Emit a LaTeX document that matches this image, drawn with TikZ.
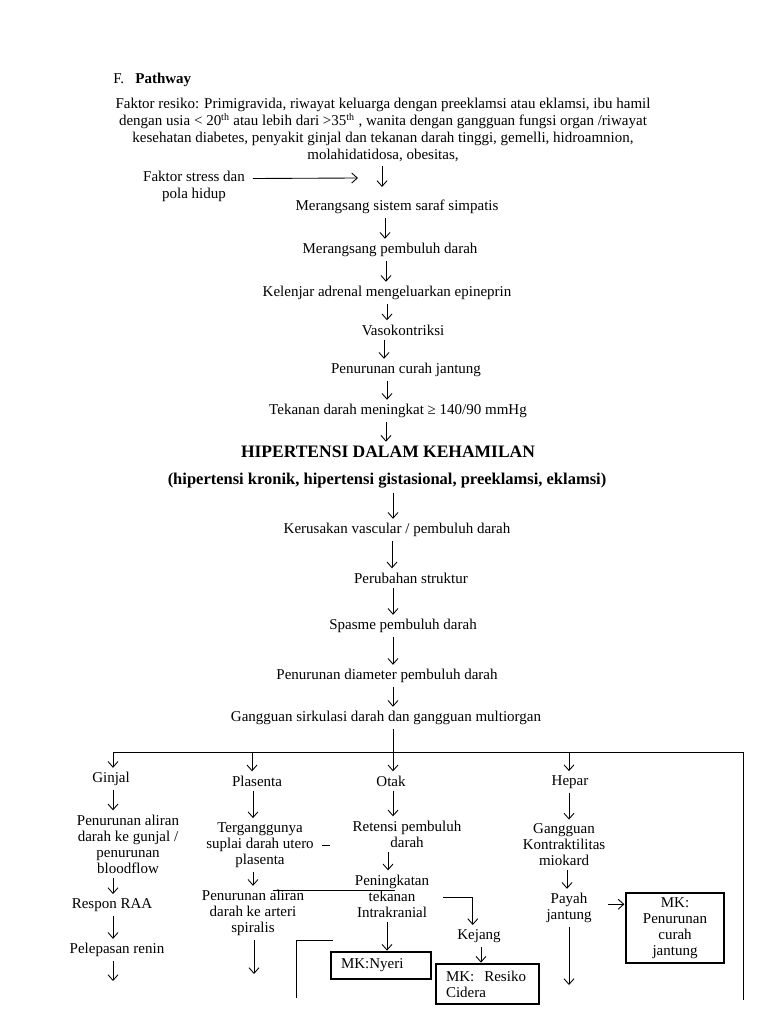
\documentclass[tikz,border=0pt]{standalone}
\usepackage{fontspec}
\setmainfont{Liberation Serif}
\usetikzlibrary{arrows.meta}

\begin{document}
\begin{tikzpicture}
[x=0.8pt,y=-0.8pt,
  textdecorate/.style={font=\fontsize{12}{13.6}\selectfont,align=center},
  branchdecorate/.style={font=\fontsize{12}{12.8}\selectfont,align=center},
  boxdecorate/.style={draw,line width=2.2pt,font=\fontsize{12}{12.8}\selectfont,inner xsep=8pt},
  arrowdecorate/.style={->,>={Straight Barb[length=4.5pt,width=8pt]},line width=0.7pt},
  linedecorate/.style={line width=0.7pt}]
\useasboundingbox (0,0) rectangle (768,1024);
%% title and risk factors
\node (judul) at (113,80) [anchor=west,inner sep=0pt,font=\fontsize{12}{13.6}\selectfont]
  {F.\hspace{9pt}\textbf{Pathway}};
\node (faktor) at (383,130) [textdecorate]
  {Faktor resiko: Primigravida, riwayat keluarga dengan preeklamsi atau eklamsi, ibu hamil\\
   dengan usia < 20\textsuperscript{th} atau lebih dari >35\textsuperscript{th} , wanita dengan gangguan fungsi organ /riwayat\\
   kesehatan diabetes, penyakit ginjal dan tekanan darah tinggi, gemelli, hidroamnion,\\
   molahidatidosa, obesitas,};
\node (stress) at (194,186) [textdecorate] {Faktor stress dan\\pola hidup};
\coordinate (gabung) at (382,187);
\coordinate (stress-ujung) at (358,178);
%% main chain
\foreach \nodename/\x/\y/\teks in {simpatis/397/207/{Merangsang sistem saraf simpatis},
  pembuluh/390/250/{Merangsang pembuluh darah},
  adrenal/387/293/{Kelenjar adrenal mengeluarkan epineprin},
  vaso/403/330/{Vasokontriksi}, curah/406/370/{Penurunan curah jantung},
  tekanan/398/411/{Tekanan darah meningkat ≥ 140/90 mmHg},
  kerusakan/397/530/{Kerusakan vascular / pembuluh darah},
  struktur/411/578/{Perubahan struktur}, spasme/403/626/{Spasme pembuluh darah},
  diameter/387/676/{Penurunan diameter pembuluh darah},
  sirkulasi/386/718/{Gangguan sirkulasi darah dan gangguan multiorgan}}
{
  \node (\nodename) at (\x,\y) [textdecorate] {\teks};
}
\node (hdk) at (388,452) [font=\fontsize{14}{16}\selectfont\bfseries] {HIPERTENSI DALAM KEHAMILAN};
\node (jenis) at (387,481) [font=\fontsize{13.2}{15}\selectfont\bfseries]
  {(hipertensi kronik, hipertensi gistasional, preeklamsi, eklamsi)};
%% branches
\foreach \nodename/\x/\y/\teks in {ginjal/111/779/{Ginjal},
  aliran/128/844/{Penurunan aliran\\darah ke gunjal /\\penurunan\\bloodflow},
  raa/112/905/{Respon RAA}, renin/117/950/{Pelepasan renin},
  plasenta/257/781/{Plasenta},
  suplai/260/845/{Terganggunya\\suplai darah utero\\plasenta},
  spiralis/253/913/{Penurunan aliran\\darah ke arteri\\spiralis},
  otak/391/781/{Otak}, retensi/407/834/{Retensi pembuluh\\darah},
  peningkatan/392/896/{Peningkatan\\tekanan\\Intrakranial},
  kejang/479/936/{Kejang}, hepar/570/782/{Hepar},
  miokard/564/845/{Gangguan\\Kontraktilitas\\miokard},
  payah/569/908/{Payah\\jantung}}
{
  \node (\nodename) at (\x,\y) [branchdecorate] {\teks};
}
%% problem boxes
\node (nyeri) at (381,965.5) [boxdecorate,text width=64pt,minimum height=21.6pt,align=left] {MK:Nyeri};
\node (cidera) at (487.5,984) [boxdecorate,text width=66.4pt,minimum height=32pt,align=left]
  {MK:~~Resiko\\Cidera};
\node (curahbox) at (675,928) [boxdecorate,text width=62.4pt,minimum height=56pt,inner ysep=3pt,align=center]
  {MK:\\Penurunan\\curah\\jantung};
%% free ends and corners
\coordinate (kiri) at (113,752);
\coordinate (kanan) at (743,752);
\coordinate (kanan-bawah) at (743,1000);
\foreach \nodename/\x/\y in {renin/113/981, spiralis/254/974, payah/569/985}
{
  \coordinate (\nodename-ujung) at (\x,\y);
}
\coordinate (garis-a) at (273,890);
\coordinate (garis-b) at (395,890);
\coordinate (sudut-a) at (333,940);
\coordinate (sudut-b) at (296,940);
\coordinate (sudut-c) at (296,998);
%% edges or lines
\draw[linedecorate] (kiri) -- (kanan) -- (kanan-bawah);
\draw[linedecorate] (garis-a) -- (garis-b);
\draw[linedecorate] (sudut-a) -- (sudut-b) -- (sudut-c);
\draw[linedecorate] ([xshift=3pt]suplai.east) -- ++(8,0);
\path
(faktor.south -| gabung) edge[arrowdecorate] (gabung)
([xshift=3pt,yshift=6pt]stress.east) edge[arrowdecorate] (stress-ujung)
\foreach \startnode/\endnode/\x in {simpatis/pembuluh/385, pembuluh/adrenal/386,
  adrenal/vaso/387, vaso/curah/384, curah/tekanan/387, tekanan/hdk/386,
  jenis/kerusakan/393, kerusakan/struktur/392, struktur/spasme/393,
  spasme/diameter/393, diameter/sirkulasi/393, sirkulasi/otak/393,
  ginjal/aliran/113, aliran/raa/113, raa/renin/113,
  plasenta/suplai/253, suplai/spiralis/253,
  otak/retensi/393, retensi/peningkatan/388, peningkatan/nyeri/387,
  kejang/cidera/481, hepar/miokard/569, miokard/payah/567} {
  (\startnode.south -| \x,0) edge[arrowdecorate] (\endnode.north -| \x,0)
}
\foreach \endnode/\x in {ginjal/113, plasenta/252, hepar/569} {
  (kiri -| \x,0) edge[arrowdecorate] (\endnode.north -| \x,0)
}
\foreach \startnode in {renin, spiralis, payah} {
  (\startnode.south -| \startnode-ujung) edge[arrowdecorate] (\startnode-ujung)
};
\draw[arrowdecorate] ([xshift=8pt,yshift=-1.5pt]peningkatan.east) -| ([xshift=-5pt]kejang.north);
\draw[arrowdecorate] ([xshift=10pt,yshift=3pt]payah.east) -- ++(16,0);
\end{tikzpicture}
\end{document}
